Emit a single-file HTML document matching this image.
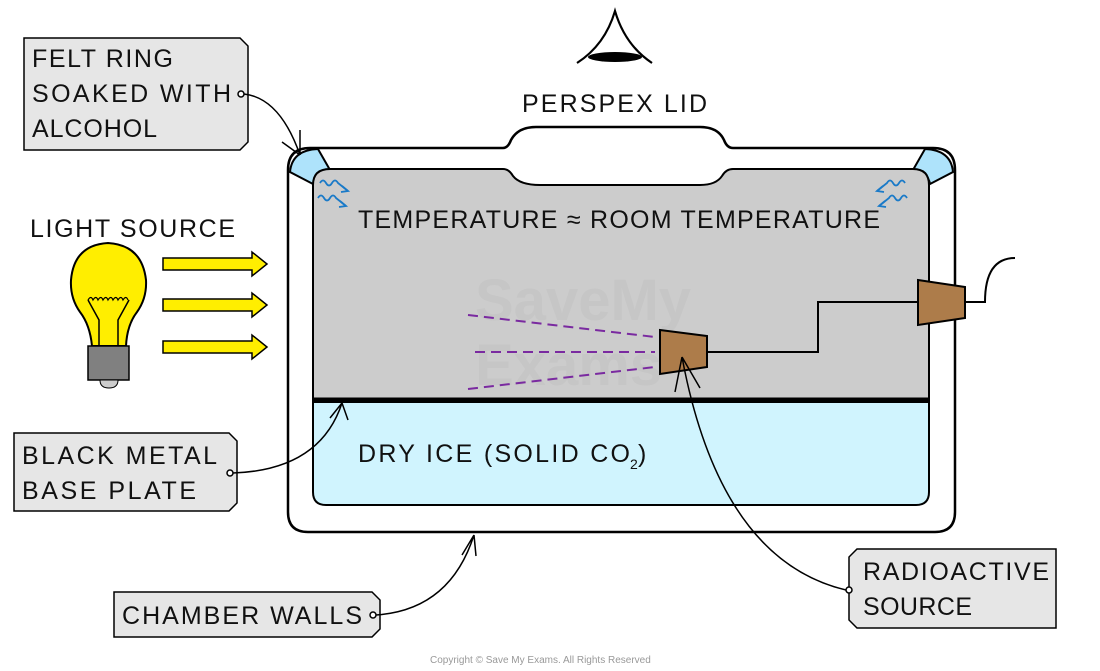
<!DOCTYPE html>
<html><head><style>
html,body{margin:0;padding:0;background:#fff;}
svg{display:block;}
text{font-family:"Liberation Sans","DejaVu Sans",sans-serif;font-size:25px;fill:#111;}
</style></head><body>
<svg width="1100" height="671" viewBox="0 0 1100 671" xmlns="http://www.w3.org/2000/svg">
<!-- eye -->
<path d="M577 63 Q605 45 615 11 Q625 45 652 63" fill="none" stroke="#000" stroke-width="2.2"/>
<ellipse cx="615" cy="57" rx="27" ry="5" fill="#000"/>
<text x="522" y="112" textLength="185" lengthAdjust="spacing">PERSPEX  LID</text>
<!-- outer chamber -->
<path d="M310 148 H503 Q508 148 511 140 Q518 127 536 127 H700 Q718 127 724 140 Q727 148 733 148 H933 Q955 148 955 170 V512 Q955 532 935 532 H308 Q288 532 288 512 V170 Q288 148 310 148 Z" fill="#fff" stroke="#000" stroke-width="2.5"/>
<!-- felt corners -->
<path d="M290 172 Q292 150 318 149 L330 170 Q315 172 313 184 Z" fill="#aee3fb" stroke="#000" stroke-width="2"/>
<path d="M953 172 Q951 150 925 149 L913 170 Q928 172 930 184 Z" fill="#aee3fb" stroke="#000" stroke-width="2"/>
<!-- inner gray -->
<path d="M330 169 H503 Q509 169 513 176 Q520 185 540 185 H700 Q716 185 722 176 Q726 169 733 169 H913 Q929 169 929 185 V400 H313 V185 Q313 169 330 169 Z" fill="#cccccc" stroke="#000" stroke-width="2"/>
<!-- dry ice -->
<path d="M313 402 H929 V492 Q929 505 916 505 H326 Q313 505 313 492 Z" fill="#d0f4fe" stroke="#000" stroke-width="2"/>
<line x1="313" y1="400" x2="929" y2="400" stroke="#000" stroke-width="5"/>
<!-- watermark -->
<text x="475" y="320" style="font-size:58px;fill:#c6c6c6;font-weight:bold">SaveMy</text>
<text x="475" y="385" style="font-size:58px;fill:#c6c6c6;font-weight:bold">Exams</text>
<text x="358" y="228" textLength="522" lengthAdjust="spacing">TEMPERATURE ≈ ROOM  TEMPERATURE</text>
<text x="358" y="462" textLength="272" lengthAdjust="spacing">DRY  ICE  (SOLID  CO</text>
<text x="630" y="469" style="font-size:14px">2</text>
<text x="638" y="462">)</text>
<!-- wavy arrows -->
<g fill="none" stroke="#1a7ac8" stroke-width="1.8">
<path d="M320 183 q3 -5 6 0 t6 0 t6 0 l10 8"/><path d="M342 186 l6 5 l-7 1"/>
<path d="M318 198 q3 -5 6 0 t6 0 t6 0 l10 8"/><path d="M340 201 l6 5 l-7 1"/>
<path d="M905 183 q-3 -5 -6 0 t-6 0 t-6 0 l-10 8"/><path d="M883 186 l-6 5 l7 1"/>
<path d="M907 198 q-3 -5 -6 0 t-6 0 t-6 0 l-10 8"/><path d="M885 201 l-6 5 l7 1"/>
</g>
<!-- dashed lines -->
<g stroke="#7a2aa0" stroke-width="2" stroke-dasharray="10 6">
<line x1="468" y1="315" x2="655" y2="337"/><line x1="475" y1="352" x2="655" y2="352"/><line x1="468" y1="389" x2="655" y2="367"/>
</g>
<!-- wires -->
<path d="M707 352 H818 V302 H918 M965 302 H985 Q985 258 1015 258" fill="none" stroke="#000" stroke-width="2"/>
<path d="M660 330 L707 336 L707 367 L660 374 Z" fill="#ad7c4a" stroke="#000" stroke-width="2"/>
<path d="M918 280 L965 287 L965 318 L918 325 Z" fill="#ad7c4a" stroke="#000" stroke-width="2"/>
<!-- light bulb -->
<path d="M92 346 Q90 325 80 312 Q70 298 71 280 Q74 245 108 243 Q142 245 146 280 Q147 298 137 312 Q127 325 126 346 Z" fill="#ffee00" stroke="#000" stroke-width="2"/>
<path d="M99 346 V320 L88 300 M118 346 V320 L129 300" fill="none" stroke="#000" stroke-width="1.5"/>
<path d="M88 300 q3 -5 5 0 q3 -5 5 0 q3 -5 5 0 q3 -5 5 0 q3 -5 5 0 q3 -5 5 0 q3 -5 5 0 q3 -5 5 0" fill="none" stroke="#000" stroke-width="1.2"/>
<rect x="88" y="346" width="41" height="34" fill="#808080" stroke="#000" stroke-width="1.5"/>
<path d="M100 380 Q100 388 109 388 Q118 388 118 380 Z" fill="#ccc" stroke="#000"/>
<text x="30" y="237" textLength="205" lengthAdjust="spacing">LIGHT  SOURCE</text>
<g fill="#ffee00" stroke="#000" stroke-width="1.5">
<path d="M163 258 H252 V252 L267 264 L252 276 V270 H163 Z"/>
<path d="M163 299 H252 V293 L267 305 L252 317 V311 H163 Z"/>
<path d="M163 341 H252 V335 L267 347 L252 359 V353 H163 Z"/>
</g>
<!-- labels -->
<g fill="#e6e6e6" stroke="#000" stroke-width="1.5">
<path d="M24 38 H240 L248 46 V142 L240 150 H24 Z"/>
<path d="M14 433 H229 L237 441 V503 L229 511 H14 Z"/>
<path d="M114 592 H372 L380 600 V629 L372 637 H114 Z"/>
<path d="M857 549 H1056 V628 H857 L849 620 V557 Z"/>
</g>
<text x="32" y="67" textLength="141" lengthAdjust="spacing">FELT RING</text>
<text x="32" y="102" textLength="199" lengthAdjust="spacing">SOAKED  WITH</text>
<text x="32" y="137" textLength="125" lengthAdjust="spacing">ALCOHOL</text>
<text x="22" y="464" textLength="195" lengthAdjust="spacing">BLACK  METAL</text>
<text x="22" y="499" textLength="174" lengthAdjust="spacing">BASE  PLATE</text>
<text x="122" y="624" textLength="240" lengthAdjust="spacing">CHAMBER  WALLS</text>
<text x="863" y="580" textLength="186" lengthAdjust="spacing">RADIOACTIVE</text>
<text x="863" y="615" textLength="109" lengthAdjust="spacing">SOURCE</text>
<!-- pointers -->
<g fill="none" stroke="#000" stroke-width="1.5">
<circle cx="241" cy="94" r="3" fill="#fff"/>
<path d="M244 94 Q280 98 300 155 M300 155 L282 142 M300 155 L300 130"/>
<circle cx="230" cy="473" r="3" fill="#fff"/>
<path d="M233 473 Q320 470 342 403 M342 403 L330 418 M342 403 L348 420"/>
<circle cx="373" cy="615" r="3" fill="#fff"/>
<path d="M376 615 Q450 610 474 535 M474 535 L462 555 M474 535 L476 556"/>
<circle cx="849" cy="590" r="3" fill="#fff"/>
<path d="M846 590 Q720 560 682 357 M682 357 L675 392 M682 357 L700 388"/>
</g>
<text x="430" y="663" style="font-size:10px;fill:#999">Copyright © Save My Exams. All Rights Reserved</text>
</svg>
</body></html>
